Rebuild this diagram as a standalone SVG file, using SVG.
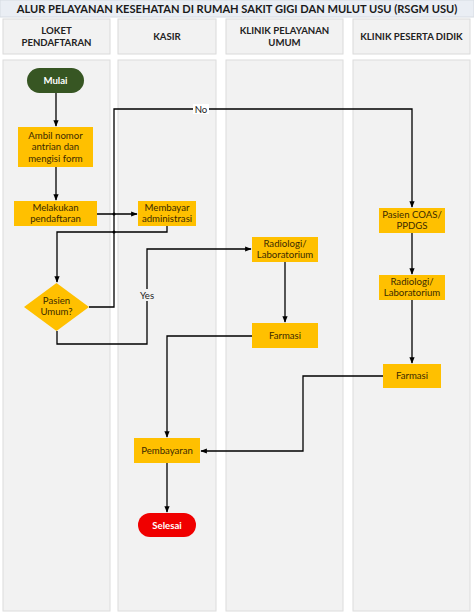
<svg xmlns="http://www.w3.org/2000/svg" width="474" height="615" viewBox="0 0 474 615">
<defs>
<marker id="ah" viewBox="0 0 10 10" refX="9" refY="5" markerWidth="5" markerHeight="5" orient="auto"><path d="M0,1 L10,5 L0,9 z" fill="#000"/></marker>
<style>
.lane{fill:#f2f2f2;stroke:#dcdcdc;stroke-width:1}
.hdr{fill:#f2f2f2;stroke:#dadada;stroke-width:1}
.ht{font-family:Lato,"Liberation Sans",sans-serif;font-weight:bold;font-size:9.6px;fill:#222;text-anchor:middle}
.box{fill:#ffc000}
.nt{font-family:Lato,"Liberation Sans",sans-serif;font-size:9.6px;fill:#3b2a00;text-anchor:middle}
.wt{font-family:Lato,"Liberation Sans",sans-serif;font-weight:bold;font-size:9.6px;fill:#fff;text-anchor:middle}
.c{fill:none;stroke:#000;stroke-width:1.3}
.lbl{font-family:Lato,"Liberation Sans",sans-serif;font-size:9.6px;fill:#222;text-anchor:middle}
</style>
</defs>
<rect width="474" height="615" fill="#fff"/>
<rect x="0" y="0" width="474" height="17" fill="#eaeef4" stroke="#d6dbe2"/>
<text x="237" y="12.5" font-family="Lato,'Liberation Sans',sans-serif" font-weight="bold" font-size="11.1" fill="#1a1a1a" text-anchor="middle">ALUR PELAYANAN KESEHATAN DI RUMAH SAKIT GIGI DAN MULUT USU (RSGM USU)</text>
<g id="lanes">
<rect class="hdr" x="3" y="19" width="107" height="35"/>
<rect class="hdr" x="118" y="19" width="98" height="35"/>
<rect class="hdr" x="226" y="19" width="117" height="35"/>
<rect class="hdr" x="353" y="19" width="117" height="35"/>
<text class="ht" x="56.5" y="34">LOKET</text>
<text class="ht" x="56.5" y="45.5">PENDAFTARAN</text>
<text class="ht" x="167" y="40">KASIR</text>
<text class="ht" x="284.5" y="34">KLINIK PELAYANAN</text>
<text class="ht" x="284.5" y="45.5">UMUM</text>
<text class="ht" x="411.5" y="40">KLINIK PESERTA DIDIK</text>
<rect class="lane" x="3" y="60" width="107" height="551"/>
<rect class="lane" x="118" y="60" width="98" height="551"/>
<rect class="lane" x="226" y="60" width="117" height="551"/>
<rect class="lane" x="353" y="60" width="117" height="551"/>
</g>
<g id="connectors">
<path class="c" d="M56,93 V126" marker-end="url(#ah)"/>
<path class="c" d="M56,167 V200" marker-end="url(#ah)"/>
<path class="c" d="M97,214 H137" marker-end="url(#ah)"/>
<path class="c" d="M167,226 V232 H57 V282" marker-end="url(#ah)"/>
<path class="c" d="M89,307 H114 V109 H412 V207" marker-end="url(#ah)"/>
<path class="c" d="M57,331 V344 H147 V249 H251" marker-end="url(#ah)"/>
<path class="c" d="M285,262 V322" marker-end="url(#ah)"/>
<path class="c" d="M252,336 H167 V437" marker-end="url(#ah)"/>
<path class="c" d="M412,233 V274" marker-end="url(#ah)"/>
<path class="c" d="M412,300 V363" marker-end="url(#ah)"/>
<path class="c" d="M383,376 H303 V451 H201" marker-end="url(#ah)"/>
<path class="c" d="M167,463 V512" marker-end="url(#ah)"/>
<circle cx="114" cy="214" r="1.5" fill="#000"/>
<circle cx="114" cy="232" r="1.5" fill="#000"/>
<rect x="193" y="104" width="16" height="10" fill="#fff"/>
<text class="lbl" x="201" y="112.5">No</text>
<rect x="137" y="289" width="20" height="12" fill="#f2f2f2"/>
<text class="lbl" x="147" y="298.5">Yes</text>
</g>
<g id="mulai"><rect x="27" y="68" width="57" height="25" rx="12.5" fill="#375623"/><text class="wt" x="55.5" y="84">Mulai</text></g>
<g id="ambil"><rect class="box" x="18" y="127" width="75" height="40"/><text class="nt" x="55.5" y="138.5">Ambil nomor</text><text class="nt" x="55.5" y="150">antrian dan</text><text class="nt" x="55.5" y="161.5">mengisi form</text></g>
<g id="melakukan"><rect class="box" x="14" y="201" width="83" height="25"/><text class="nt" x="55.5" y="211">Melakukan</text><text class="nt" x="55.5" y="222">pendaftaran</text></g>
<g id="membayar"><rect class="box" x="138" y="201" width="58" height="25"/><text class="nt" x="167" y="211">Membayar</text><text class="nt" x="167" y="222">administrasi</text></g>
<g id="pasien-umum"><polygon class="box" points="56.5,283 89,307 56.5,331 24,307"/><text class="nt" x="56.5" y="304">Pasien</text><text class="nt" x="56.5" y="315">Umum?</text></g>
<g id="radiologi-umum"><rect class="box" x="252" y="237" width="66" height="25"/><text class="nt" x="285" y="247">Radiologi/</text><text class="nt" x="285" y="258">Laboratorium</text></g>
<g id="farmasi-umum"><rect class="box" x="252" y="323" width="66" height="25"/><text class="nt" x="285" y="338.5">Farmasi</text></g>
<g id="pasien-coas"><rect class="box" x="379" y="208" width="66" height="25"/><text class="nt" x="412" y="218">Pasien COAS/</text><text class="nt" x="412" y="229">PPDGS</text></g>
<g id="radiologi-peserta"><rect class="box" x="379" y="275" width="66" height="25"/><text class="nt" x="412" y="285">Radiologi/</text><text class="nt" x="412" y="296">Laboratorium</text></g>
<g id="farmasi-peserta"><rect class="box" x="383" y="364" width="58" height="24"/><text class="nt" x="412" y="379">Farmasi</text></g>
<g id="pembayaran"><rect class="box" x="134" y="438" width="66" height="25"/><text class="nt" x="167" y="453.5">Pembayaran</text></g>
<g id="selesai"><rect x="138" y="513" width="58" height="24" rx="12" fill="#f00000"/><text class="wt" x="167" y="528.5">Selesai</text></g>
</svg>
